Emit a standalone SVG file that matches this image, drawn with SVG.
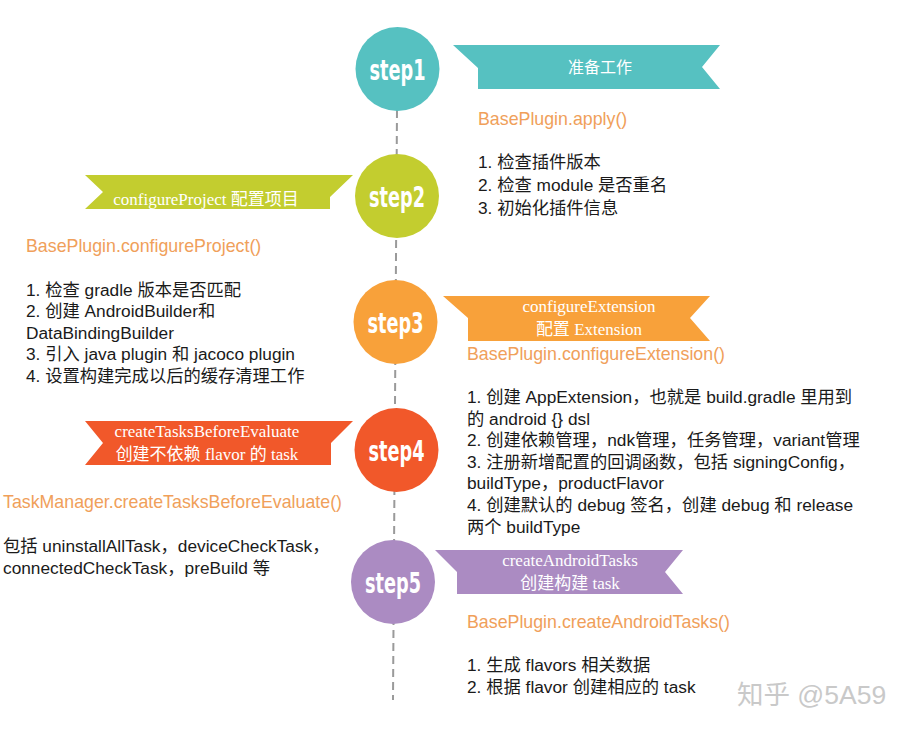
<svg xmlns="http://www.w3.org/2000/svg" width="908" height="732" viewBox="0 0 908 732">
<style>
.step{font-family:"Liberation Sans Narrow","DejaVu Sans Condensed","Liberation Sans",sans-serif;font-weight:bold;font-size:28px;fill:#fff;text-anchor:middle}
.rib{font-family:"Liberation Serif","Noto Sans CJK SC",serif;font-size:17px;fill:#fff;text-anchor:middle}
.ribcn{font-family:"Noto Sans CJK SC","Liberation Sans",sans-serif;font-size:16px;fill:#fff;text-anchor:middle}
.fn{font-family:"Liberation Sans","Noto Sans CJK SC",sans-serif;font-size:17.8px;fill:#f0a05a}
.txt{font-family:"Liberation Sans","Noto Sans CJK SC",sans-serif;font-size:17.3px;fill:#1a1a1a}
.wm{font-family:"Liberation Sans","Noto Sans CJK SC",sans-serif;font-size:26.5px;fill:#c9c9c9}
</style>
<rect width="908" height="732" fill="#fff"/>
<g id="connectors">
<line x1="397" y1="110" x2="393" y2="700" stroke="#9a9a9a" stroke-width="2" stroke-dasharray="8,5"/>
</g>
<g id="step1">
<circle cx="397.5" cy="69" r="42" fill="#56c1c1"/>
<text class="step" x="397.5" y="80" textLength="56" lengthAdjust="spacingAndGlyphs">step1</text>
<polygon points="453,45 720,45 702,67 720,89 478,89 478,68" fill="#56c1c1"/>
<text class="ribcn" x="600" y="73">准备工作</text>
<text class="fn" x="478" y="125">BasePlugin.apply()</text>
<text class="txt" x="478" y="168">1. 检查插件版本</text>
<text class="txt" x="478" y="191">2. 检查 module 是否重名</text>
<text class="txt" x="478" y="214">3. 初始化插件信息</text>
</g>
<g id="step2">
<circle cx="397" cy="196" r="42" fill="#c3cd2f"/>
<text class="step" x="397" y="207" textLength="56" lengthAdjust="spacingAndGlyphs">step2</text>
<polygon points="353,175 85,175 103,192 85,209 330,209 330,197" fill="#c3cd2f"/>
<text class="rib" x="206" y="205">configureProject <tspan font-family="Noto Sans CJK SC, sans-serif">配置项目</tspan></text>
<text class="fn" x="26" y="252">BasePlugin.configureProject()</text>
<text class="txt" x="26" y="296">1. 检查 gradle 版本是否匹配</text>
<text class="txt" x="26" y="317">2. 创建 AndroidBuilder和</text>
<text class="txt" x="26" y="339">DataBindingBuilder</text>
<text class="txt" x="26" y="360">3. 引入 java plugin 和 jacoco plugin</text>
<text class="txt" x="26" y="382">4. 设置构建完成以后的缓存清理工作</text>
</g>
<g id="step3">
<circle cx="395.5" cy="322" r="42" fill="#f8a13a"/>
<text class="step" x="395.5" y="333" textLength="56" lengthAdjust="spacingAndGlyphs">step3</text>
<polygon points="443,296 710,296 690,318 710,341 468,341 468,318" fill="#f8a13a"/>
<text class="rib" x="589" y="312">configureExtension</text>
<text class="rib" x="589" y="335"><tspan font-family="Noto Sans CJK SC, sans-serif">配置</tspan> Extension</text>
<text class="fn" x="467" y="360">BasePlugin.configureExtension()</text>
<text class="txt" x="467" y="403">1. 创建 AppExtension，也就是 build.gradle 里用到</text>
<text class="txt" x="467" y="425">的 android {} dsl</text>
<text class="txt" x="467" y="446">2. 创建依赖管理，ndk管理，任务管理，variant管理</text>
<text class="txt" x="467" y="468">3. 注册新增配置的回调函数，包括 signingConfig，</text>
<text class="txt" x="467" y="489">buildType，productFlavor</text>
<text class="txt" x="467" y="511">4. 创建默认的 debug 签名，创建 debug 和 release</text>
<text class="txt" x="467" y="533">两个 buildType</text>
</g>
<g id="step4">
<circle cx="396.5" cy="450" r="42" fill="#f1582a"/>
<text class="step" x="396.5" y="461" textLength="56" lengthAdjust="spacingAndGlyphs">step4</text>
<polygon points="353,421 85,421 103,443 85,465 331,465 331,443" fill="#f1582a"/>
<text class="rib" x="207" y="437">createTasksBeforeEvaluate</text>
<text class="rib" x="207" y="460"><tspan font-family="Noto Sans CJK SC, sans-serif">创建不依赖</tspan> flavor <tspan font-family="Noto Sans CJK SC, sans-serif">的</tspan> task</text>
<text class="fn" x="3" y="508">TaskManager.createTasksBeforeEvaluate()</text>
<text class="txt" x="3" y="552">包括 uninstallAllTask，deviceCheckTask，</text>
<text class="txt" x="3" y="574">connectedCheckTask，preBuild 等</text>
</g>
<g id="step5">
<circle cx="393" cy="582" r="42" fill="#ab8bc2"/>
<text class="step" x="393" y="593" textLength="56" lengthAdjust="spacingAndGlyphs">step5</text>
<polygon points="435,550 683,550 665,572 683,594 457,594 457,572" fill="#ab8bc2"/>
<text class="rib" x="570" y="566">createAndroidTasks</text>
<text class="rib" x="570" y="589"><tspan font-family="Noto Sans CJK SC, sans-serif">创建构建</tspan> task</text>
<text class="fn" x="467" y="628">BasePlugin.createAndroidTasks()</text>
<text class="txt" x="467" y="671">1. 生成 flavors 相关数据</text>
<text class="txt" x="467" y="693">2. 根据 flavor 创建相应的 task</text>
</g>
<text class="wm" x="737" y="704">知乎 @5A59</text>
</svg>
